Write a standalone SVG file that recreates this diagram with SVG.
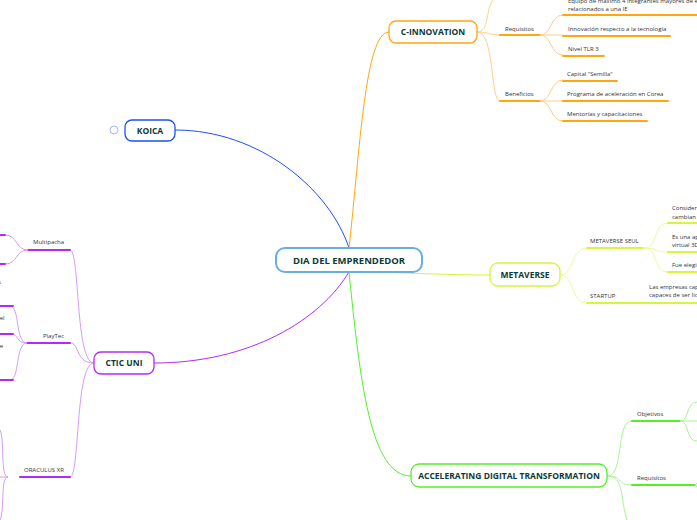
<svg xmlns="http://www.w3.org/2000/svg" width="697" height="520" viewBox="0 0 697 520">
<style>
text{font-family:"Open Sans","Liberation Sans",sans-serif;fill:#333}
.n{font-size:6px}
.t{font-size:8.5px;font-weight:bold;fill:#0b3a3a}
.c{fill:none;stroke-width:1}
.u{fill:none;stroke-width:2;stroke-linecap:round}
.o{stroke:#ffa70f}.p{stroke:#b02cf5}.b{stroke:#1e4ff5}.y{stroke:#d7f53a}.g{stroke:#55ef2a}
.on{stroke:#ffcf8a}.pn{stroke:#d59cf8}.yn{stroke:#ebfb9c}.gn{stroke:#a7f690}
</style>
<g id="connectors">
<path class="c b" d="M349 248 C330 190 260 130 175 130"/>
<path class="c p" d="M349 272 C320 320 250 363 154 363"/>
<path class="c o" d="M349 248 C360 150 365 32 389 32"/>
<path class="c y" d="M349 272 C400 272 440 275 490 275"/>
<path class="c g" d="M349 272 C360 380 370 476 411 476"/>
<path class="c on" d="M477 32 C490 32 485 10 493 0"/>
<path class="c on" d="M477 32 C490 32 488 35 500 35 M477 32 C495 32 490 101 500 101"/>
<path class="u o" d="M500 35 H540 M500 101 H540"/>
<path class="c on" d="M540 35 C552 35 550 15 563 15 M540 35 H563 M540 35 C552 35 550 55 563 55"/>
<path class="u o" d="M563 15 H697 M563 36 H670 M563 56 H604"/>
<path class="c on" d="M540 101 C552 101 550 80 563 80 M540 101 H563 M540 101 C552 101 550 121 563 121"/>
<path class="u o" d="M563 81 H617 M563 101 H668 M563 121 H647"/>
<path class="c yn" d="M560 275 C575 275 570 248 587 248 M560 275 C575 275 570 303 587 303"/>
<path class="u y" d="M587 248 H643 M587 303 H620"/>
<path class="c yn" d="M643 248 C660 248 652 223 668 223 M643 248 C660 248 652 252 668 252 M643 248 C660 248 652 272 668 272"/>
<path class="u y" d="M668 223 H697 M668 252 H697 M668 272 H697 M620 303 H697"/>
<path class="c gn" d="M607 476 C625 476 615 421 632 421 M607 476 C625 476 615 485 632 485 M607 476 C625 476 620 500 627 520"/>
<path class="u g" d="M632 421 H680 M632 485 H695"/>
<path class="c gn" d="M680 421 C690 421 685 403 697 402 M680 421 H697 M680 421 C690 421 685 441 697 441 M695 485 L697 483 M695 485 L697 487"/>
<path class="c pn" d="M94 363 C75 363 80 250 70 250 M94 363 C75 363 80 343 70 343 M94 363 C75 363 80 477 70 477"/>
<path class="u p" d="M28 250 H70 M27 343 H70 M20 477 H70"/>
<path class="c pn" d="M28 250 C15 250 18 235 5 235 M28 250 C15 250 18 264 5 264"/>
<path class="u p" d="M0 235 H5 M0 264 H5"/>
<path class="c pn" d="M27 343 C15 343 20 306 10 306 M27 343 C15 343 20 334 10 334 M27 343 C15 343 20 380 10 380"/>
<path class="u p" d="M0 306 H13 M0 334 H13 M0 380 H13"/>
<path class="c pn" d="M8 477 C0 477 5 440 0 430 M8 477 C0 477 5 510 0 520 M8 477 H0"/>
</g>
<g id="center"><rect x="276" y="248" width="146" height="24" rx="9" fill="#fff" stroke="#6aaede" stroke-width="2"/><text class="t" x="349" y="263.5" text-anchor="middle" style="font-size:9.5px">DIA DEL EMPRENDEDOR</text></g>
<g id="koica"><rect x="125" y="120" width="50" height="21" rx="7" fill="#fff" stroke="#1e4ff5" stroke-width="1.3"/><text class="t" x="150" y="134" text-anchor="middle">KOICA</text><circle cx="114" cy="130" r="4" fill="none" stroke="#8aa6f7" stroke-width="0.8"/></g>
<g id="ctic"><rect x="94" y="352" width="60" height="22" rx="7" fill="#fff" stroke="#b02cf5" stroke-width="1.3"/><text class="t" x="124" y="366" text-anchor="middle">CTIC UNI</text></g>
<g id="cinno"><rect x="389" y="21" width="88" height="22" rx="7" fill="#fff" stroke="#ffa70f" stroke-width="1.3"/><text class="t" x="433" y="35" text-anchor="middle">C-INNOVATION</text></g>
<g id="metaverse"><rect x="490" y="263" width="70" height="23" rx="8" fill="#fff" stroke="#d7f53a" stroke-width="1.3"/><text class="t" x="525" y="278" text-anchor="middle">METAVERSE</text></g>
<g id="adt"><rect x="411" y="464" width="196" height="23" rx="8" fill="#fff" stroke="#55ef2a" stroke-width="1.3"/><text class="t" x="509" y="479" text-anchor="middle">ACCELERATING DIGITAL TRANSFORMATION</text></g>
<g id="labels">
<text class="n" x="505" y="31">Requisitos</text>
<text class="n" x="505" y="96">Beneficios</text>
<text class="n" x="568" y="3">Equipo de máximo 4 integrantes mayores de edad</text>
<text class="n" x="568" y="11">relacionados a una IE</text>
<text class="n" x="568" y="31">Innovación respecto a la tecnología</text>
<text class="n" x="568" y="51">Nivel TLR 3</text>
<text class="n" x="567" y="76">Capital "Semilla"</text>
<text class="n" x="567" y="96">Programa de aceleración en Corea</text>
<text class="n" x="567" y="116">Mentorías y capacitaciones</text>
<text class="n" x="590" y="243">METAVERSE SEUL</text>
<text class="n" x="590" y="298">STARTUP</text>
<text class="n" x="672" y="210">Consideran</text>
<text class="n" x="672" y="219">cambian</text>
<text class="n" x="672" y="239">Es una ap</text>
<text class="n" x="672" y="247">virtual 3D</text>
<text class="n" x="672" y="267">Fue elegi</text>
<text class="n" x="649" y="289">Las empresas cap</text>
<text class="n" x="649" y="297">capaces de ser lic</text>
<text class="n" x="637" y="416">Objetivos</text>
<text class="n" x="637" y="480">Requisitos</text>
<text class="n" x="33" y="244">Multipacha</text>
<text class="n" x="43" y="338">PlayTec</text>
<text class="n" x="24" y="472">ORACULUS XR</text>
<text class="n" x="-2" y="284">s</text>
<text class="n" x="-4" y="320">del</text>
<text class="n" x="-4" y="348">de</text>
</g>
</svg>
